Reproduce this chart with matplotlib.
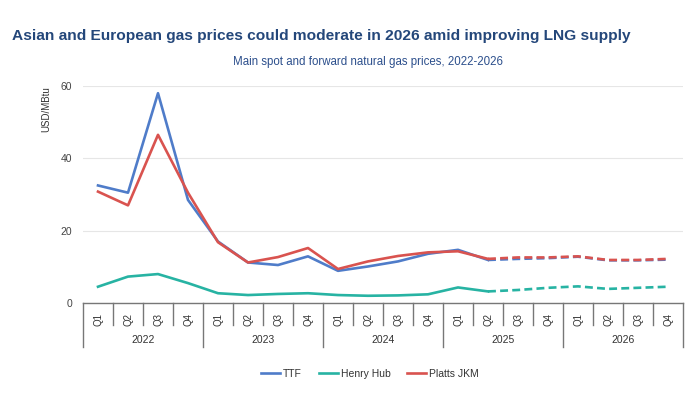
import matplotlib
matplotlib.use("Agg")
import matplotlib.pyplot as plt

plt.rcParams["font.family"] = ["Liberation Sans", "DejaVu Sans"]

# 数据（从图上读出，单位 USD/MBtu）
years = ["2022", "2023", "2024", "2025", "2026"]
quarters = ["Q1", "Q2", "Q3", "Q4"]
ttf = [32.5, 30.5, 58.0, 28.5, 17.0, 11.2, 10.5, 12.9, 8.9, 10.1, 11.5, 13.6, 14.7, 11.9,
       12.2, 12.4, 12.8, 11.8, 11.8, 12.0]
henry_hub = [4.5, 7.3, 8.0, 5.5, 2.7, 2.2, 2.5, 2.7, 2.2, 2.0, 2.1, 2.4, 4.3, 3.2,
             3.6, 4.2, 4.6, 3.9, 4.2, 4.5]
jkm = [30.8, 27.0, 46.5, 30.5, 16.8, 11.2, 12.7, 15.2, 9.4, 11.5, 13.0, 14.0, 14.3, 12.2,
       12.6, 12.6, 12.9, 11.9, 11.9, 12.2]
forecast_start = 13  # 2025 Q2 起为远期价格（虚线）

series = [("TTF", ttf, "#4f7cc9"), ("Henry Hub", henry_hub, "#27b3a3"),
          ("Platts JKM", jkm, "#d9534f")]

fig = plt.figure(figsize=(7, 3.96), dpi=100)
ax = fig.add_axes([83 / 700, 1 - 303 / 396, 600 / 700, 217 / 396])

n = len(ttf)
x = list(range(n))
for name, vals, color in series:
    ax.plot(x[:forecast_start + 1], vals[:forecast_start + 1], color=color, lw=1.9, label=name,
            clip_on=False)
    ax.plot(x[forecast_start:], vals[forecast_start:], color=color, lw=1.9, ls=(0, (3, 1.6)),
            clip_on=False)

ax.set_xlim(-0.5, n - 0.5)
ax.set_ylim(0, 60)
ax.set_yticks([0, 20, 40, 60])
ax.tick_params(axis="y", length=0, labelsize=7.5, labelcolor="#444444", pad=8)
ax.set_xticks([])
ax.grid(axis="y", color="#e6e6e6", lw=0.8)
ax.set_axisbelow(True)
for s in ["top", "right", "left"]:
    ax.spines[s].set_visible(False)
ax.spines["bottom"].set_color("#777777")
ax.spines["bottom"].set_linewidth(1)

# 坐标轴下方的表格式分类标签
tr = ax.get_xaxis_transform()
for i in range(n + 1):
    depth = -0.203 if i % 4 == 0 else -0.101
    ax.plot([i - 0.5, i - 0.5], [0, depth], transform=tr, color="#777777", lw=1, clip_on=False)
for i in range(n):
    ax.text(i, -0.074, quarters[i % 4], transform=tr, rotation=90, ha="center", va="center",
            fontsize=7, color="#333333")
for j, yr in enumerate(years):
    ax.text(j * 4 + 1.5, -0.17, yr, transform=tr, ha="center", va="center",
            fontsize=7.5, color="#333333")

ax.text(-0.062, 1.0, "USD/MBtu", transform=ax.transAxes, rotation=90, ha="center", va="top",
        fontsize=7, color="#333333")

fig.text(12 / 700, 1 - 36 / 396, "Asian and European gas prices could moderate in 2026 amid improving LNG supply",
         fontsize=11.15, fontweight="bold", color="#24477a", ha="left", va="center")
fig.text(368 / 700, 1 - 62 / 396, "Main spot and forward natural gas prices, 2022-2026",
         fontsize=8.3, color="#2c4f8c", ha="center", va="center")

fig.legend(loc="center", bbox_to_anchor=(370 / 700, 1 - 374 / 396), ncol=3, frameon=False,
           fontsize=7.5, handlelength=1.8, handletextpad=0.3, columnspacing=1.6,
           labelcolor="#333333")

fig.savefig("out.png", dpi=100)
